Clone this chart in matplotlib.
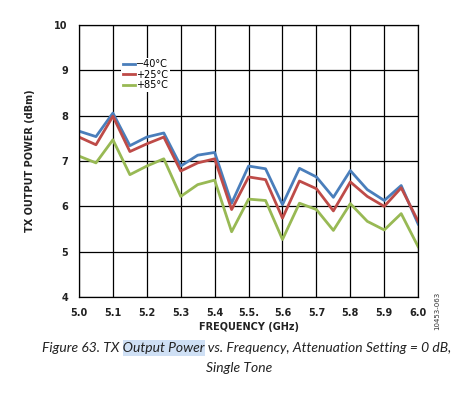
import numpy as np
import matplotlib.pyplot as plt
from matplotlib.patches import Rectangle

# frequency points (GHz) and output power (dBm) per temperature
freq = [5.0, 5.05, 5.1, 5.15, 5.2, 5.25, 5.3, 5.35, 5.4, 5.45, 5.5,
        5.55, 5.6, 5.65, 5.7, 5.75, 5.8, 5.85, 5.9, 5.95, 6.0]
p_m40 = [7.66, 7.54, 8.06, 7.34, 7.53, 7.62, 6.89, 7.13, 7.19, 6.07, 6.89,
         6.83, 6.04, 6.84, 6.65, 6.20, 6.79, 6.37, 6.13, 6.46, 5.61]
p_p25 = [7.53, 7.36, 7.99, 7.21, 7.38, 7.53, 6.78, 6.96, 7.05, 5.93, 6.65,
         6.59, 5.74, 6.56, 6.39, 5.90, 6.54, 6.22, 6.00, 6.41, 5.67]
p_p85 = [7.11, 6.96, 7.47, 6.70, 6.89, 7.05, 6.22, 6.48, 6.58, 5.44, 6.16,
         6.13, 5.27, 6.07, 5.93, 5.47, 6.06, 5.67, 5.48, 5.84, 5.11]

xticks = [5.0, 5.1, 5.2, 5.3, 5.4, 5.5, 5.6, 5.7, 5.8, 5.9, 6.0]
xtick_labels = ['5.0', '5.1', '5.2', '5.3', '5.4', '5.5.', '5.6', '5.7', '5.8', '5.9', '6.0']
yticks = [4, 5, 6, 7, 8, 9, 10]

W, H = 458, 393
fig = plt.figure(figsize=(W / 100, H / 100), dpi=100)
ax = fig.add_axes([0.1725, 0.2443, 0.7405, 0.6917])

ax.plot(freq, p_m40, color='#4a7ebb', lw=2.0, label='\u221240°C')
ax.plot(freq, p_p25, color='#be4b48', lw=2.0, label='+25°C')
ax.plot(freq, p_p85, color='#98b954', lw=2.0, label='+85°C')

ax.set_xlim(5.0, 6.0)
ax.set_ylim(4, 10)
ax.set_xticks(xticks)
ax.set_xticklabels(xtick_labels)
ax.set_yticks(yticks)
ax.grid(True, color='black', lw=0.9)
ax.set_axisbelow(True)
for s in ax.spines.values():
    s.set_color('black')
    s.set_linewidth(0.9)
ax.tick_params(length=0, pad=8, labelsize=7)
for lab in ax.get_xticklabels() + ax.get_yticklabels():
    lab.set_fontweight('bold')
    lab.set_color('#222222')

ax.set_xlabel('FREQUENCY (GHz)', fontsize=7, fontweight='bold', color='#222222', labelpad=3)
ax.set_ylabel('TX OUTPUT POWER (dBm)', fontsize=7, fontweight='bold', color='#222222', labelpad=14)

leg = ax.legend(loc='upper left', bbox_to_anchor=(0.125, 0.88), frameon=True,
                fontsize=7, handlelength=1.2, handletextpad=0.2, labelspacing=0.05,
                borderpad=0.15, borderaxespad=0)
leg.get_frame().set_edgecolor('none')
leg.get_frame().set_facecolor('white')
leg.get_frame().set_alpha(1)
leg.get_frame().set_boxstyle('square', pad=0)

fig.text(437 / W, 1 - 311 / H, '10453-063', rotation=90, fontsize=5, color='#333333',
         ha='center', va='center')

# caption, sized so the first line spans about 410 px
line1 = 'Figure 63. TX Output Power vs. Frequency, Attenuation Setting = 0 dB,'
cap_kw = dict(family='Lato', style='italic', color='#222222')
renderer = fig.canvas.get_renderer()


def text_w(s, size):
    t = fig.text(0, 0, s, fontsize=size, **cap_kw)
    w = t.get_window_extent(renderer).width
    t.remove()
    return w


size = 9.0 * 410 / text_w(line1, 9.0)
cx = 247
left = cx - text_w(line1, size) / 2
hl0 = left + text_w('Figure 63. TX ', size)
hl1 = left + text_w('Figure 63. TX Output Power', size)
fig.patches.append(Rectangle((hl0 / W, 1 - 356 / H), (hl1 - hl0) / W, 16 / H,
                             transform=fig.transFigure, facecolor='#cfe0f5',
                             edgecolor='none', zorder=0))
fig.text(left / W, 1 - 348 / H, line1, fontsize=size, ha='left', va='center', **cap_kw)
fig.text(239 / W, 1 - 368 / H, 'Single Tone', fontsize=size, ha='center', va='center', **cap_kw)

fig.savefig('out.png', dpi=100)
